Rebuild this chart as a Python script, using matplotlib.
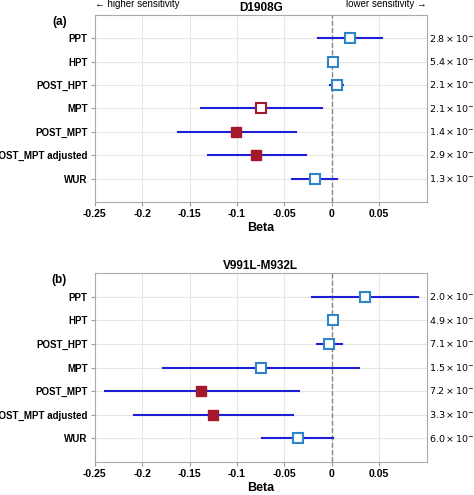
import matplotlib
matplotlib.use("Agg")
import matplotlib.pyplot as plt

labels = ["PPT", "HPT", "POST_HPT", "MPT", "POST_MPT", "POST_MPT adjusted", "WUR"]

# panel a: D1908G
beta_a = [0.019, 0.001, 0.005, -0.075, -0.101, -0.080, -0.018]
lo_a = [-0.015, 0.001, -0.002, -0.138, -0.162, -0.131, -0.042]
hi_a = [0.053, 0.001, 0.012, -0.010, -0.038, -0.027, 0.006]
pval_a = ["2.8", "5.4", "2.1", "2.1", "1.4", "2.9", "1.3"]
pexp_a = ["-1", "-1", "-1", "-2", "-3", "-3", "-1"]
style_a = ["open_blue", "open_blue", "open_blue", "open_red", "filled", "filled", "open_blue"]

# panel b: V991L-M932L
beta_b = [0.035, 0.001, -0.003, -0.075, -0.138, -0.125, -0.036]
lo_b = [-0.021, 0.001, -0.016, -0.178, -0.239, -0.209, -0.074]
hi_b = [0.091, 0.001, 0.011, 0.029, -0.035, -0.041, 0.001]
pval_b = ["2.0", "4.9", "7.1", "1.5", "7.2", "3.3", "6.0"]
pexp_b = ["-1", "-1", "-1", "-1", "-3", "-3", "-2"]
style_b = ["open_blue", "open_blue", "open_blue", "open_blue", "filled", "filled", "open_blue"]

line_col = "#1f1fd6"
blue = "#2e86c8"
red = "#a3182c"

plt.rcParams['font.family'] = ['Liberation Sans', 'DejaVu Sans']

fig = plt.figure(figsize=(4.74, 4.95), dpi=100)


def panel(rect, title, tag, beta, lo, hi, pv, pe, styles):
    ax = fig.add_axes(rect)
    for i in range(len(labels)):
        ax.plot([lo[i], hi[i]], [i, i], color=line_col, lw=1.5, zorder=2)
        s = styles[i]
        if s == "filled":
            ax.plot(beta[i], i, marker="s", ms=7, mfc=red, mec=red, zorder=3)
        elif s == "open_red":
            ax.plot(beta[i], i, marker="s", ms=7, mfc="white", mec=red, mew=1.5, zorder=3)
        else:
            ax.plot(beta[i], i, marker="s", ms=7, mfc="white", mec=blue, mew=1.5, zorder=3)
        fig.text(0.905, rect[1] + rect[3] * (1 - (i + 1) / 8), "$%s\\times10^{%s}$" % (pv[i], pe[i]),
                 fontsize=6.8, va="center", ha="left")
    ax.axvline(0, color="#888888", ls="--", lw=1, zorder=1)
    ax.set_xlim(-0.25, 0.1)
    ax.set_ylim(7, -1)
    ax.set_xticks([-0.25, -0.2, -0.15, -0.1, -0.05, 0, 0.05])
    ax.set_xticklabels(["-0.25", "-0.2", "-0.15", "-0.1", "-0.05", "0", "0.05"], fontweight="bold", fontsize=7.5)
    ax.set_yticks(range(len(labels)))
    ax.set_yticklabels(labels, fontweight="bold", fontsize=7)
    ax.grid(True, color="#e6e6e6", lw=0.8)
    ax.set_axisbelow(True)
    ax.tick_params(length=3, color="#999999", pad=2)
    for sp in ax.spines.values():
        sp.set_color("#aaaaaa")
    ax.set_xlabel("Beta", fontsize=9, fontweight="bold", labelpad=2)
    ax.set_title(title, fontsize=8.5, fontweight="bold", pad=3)
    fig.text(0.125, rect[1] + rect[3] - 0.02, tag, fontsize=8.5, fontweight="bold", ha="center")
    return ax


panel([0.2, 0.592, 0.70, 0.378], "D1908G", "(a)", beta_a, lo_a, hi_a, pval_a, pexp_a, style_a)
panel([0.2, 0.067, 0.70, 0.381], "V991L-M932L", "(b)", beta_b, lo_b, hi_b, pval_b, pexp_b, style_b)
fig.text(0.2, 0.982, "\u2190 higher sensitivity", fontsize=7, ha="left", va="bottom")
fig.text(0.9, 0.982, "lower sensitivity \u2192", fontsize=7, ha="right", va="bottom")

fig.savefig("out.png", dpi=100)
